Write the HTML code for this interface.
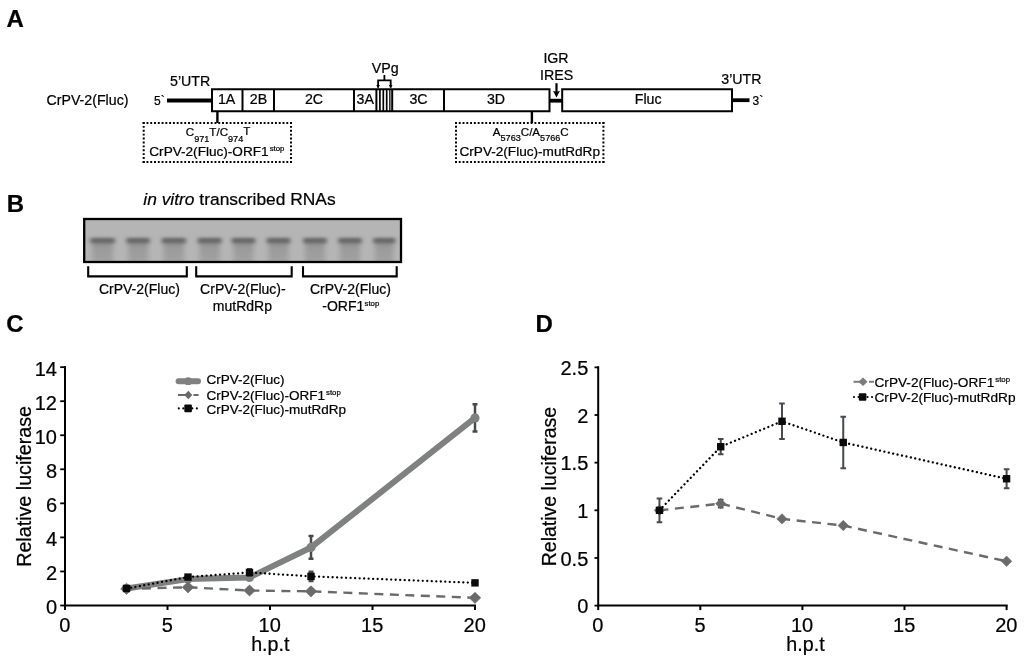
<!DOCTYPE html>
<html lang="en"><head><meta charset="utf-8"><title>CrPV-2(Fluc) figure</title>
<style>html,body{margin:0;padding:0;background:#fff;}body{width:1024px;height:661px;overflow:hidden;}svg{display:block;}text{font-family:"Liberation Sans", Arial, sans-serif;fill:#000;stroke:#000;stroke-width:0.22px;}.pl{font-size:24px;font-weight:bold;}.t14{font-size:14.2px;}.t136{font-size:13.6px;}.t14b{font-size:14px;}.t12{font-size:12px;}.t11{font-size:11.6px;}.sub{font-size:9.1px;}.sup{font-size:7.8px;}.tk{font-size:20px;}.ax{font-size:19.7px;}.lg{font-size:13.5px;}</style></head><body>
<svg width="1024" height="661" viewBox="0 0 1024 661">
<defs><filter id="b1" x="-20%" y="-100%" width="140%" height="300%"><feGaussianBlur stdDeviation="2 1.7"/></filter><filter id="b2" x="-20%" y="-50%" width="140%" height="200%"><feGaussianBlur stdDeviation="2.6 1.6"/></filter><linearGradient id="smear" x1="0" y1="0" x2="0" y2="1"><stop offset="0" stop-color="#8e8e8e"/><stop offset="0.35" stop-color="#9c9c9c"/><stop offset="1" stop-color="#a6a6a6"/></linearGradient><clipPath id="gelclip"><rect x="84.2" y="219" width="316.8" height="43"/></clipPath></defs>
<rect x="0" y="0" width="1024" height="661" fill="#fff"/>
<g id="panelA">
<text class="pl" x="6.6" y="27">A</text>
<text class="t14" x="46.5" y="105">CrPV-2(Fluc)</text>
<text class="t12" x="154" y="104.5">5`</text>
<text class="t14" x="170" y="86">5’UTR</text>
<line x1="167" y1="100.6" x2="212" y2="100.6" stroke="#000" stroke-width="4"/>
<rect x="212" y="89.25" width="337.5" height="22" fill="#fff" stroke="#000" stroke-width="2"/>
<line x1="242.5" y1="89" x2="242.5" y2="111.5" stroke="#000" stroke-width="2"/>
<line x1="274" y1="89" x2="274" y2="111.5" stroke="#000" stroke-width="2"/>
<line x1="354" y1="89" x2="354" y2="111.5" stroke="#000" stroke-width="2"/>
<line x1="376.4" y1="89" x2="376.4" y2="111.5" stroke="#000" stroke-width="2"/>
<line x1="392.2" y1="89" x2="392.2" y2="111.5" stroke="#000" stroke-width="2"/>
<line x1="444" y1="89" x2="444" y2="111.5" stroke="#000" stroke-width="2"/>
<line x1="379.9" y1="89" x2="379.9" y2="111.5" stroke="#000" stroke-width="1.7"/>
<line x1="383.3" y1="89" x2="383.3" y2="111.5" stroke="#000" stroke-width="1.7"/>
<line x1="386.7" y1="89" x2="386.7" y2="111.5" stroke="#000" stroke-width="1.7"/>
<line x1="389.85" y1="89" x2="389.85" y2="111.5" stroke="#000" stroke-width="1.3"/>
<text class="t14" x="226.6" y="104.2" text-anchor="middle">1A</text>
<text class="t14" x="258.5" y="104.2" text-anchor="middle">2B</text>
<text class="t14" x="314" y="104.2" text-anchor="middle">2C</text>
<text class="t14" x="365.2" y="104.2" text-anchor="middle">3A</text>
<text class="t14" x="418.5" y="104.2" text-anchor="middle">3C</text>
<text class="t14" x="496" y="104.2" text-anchor="middle">3D</text>
<text class="t14" x="385.2" y="72.5" text-anchor="middle">VPg</text>
<path d="M384.4 75 V80.3 M378.1 87.5 V80.3 H390.7 V87.5" fill="none" stroke="#000" stroke-width="1.8"/>
<path d="M376.3 85 L378.1 88.4 L379.9 85 Z M388.9 85 L390.7 88.4 L392.5 85 Z" fill="#000"/>
<line x1="549.5" y1="100.7" x2="562.2" y2="100.7" stroke="#000" stroke-width="3.8"/>
<text class="t14" x="556" y="63.2" text-anchor="middle">IGR</text>
<text class="t14" x="556.6" y="80.2" text-anchor="middle">IRES</text>
<line x1="556.5" y1="83.2" x2="556.5" y2="93" stroke="#000" stroke-width="2.2"/>
<path d="M553 90.8 L556.5 97.6 L560 90.8 L556.5 92 Z" fill="#000"/>
<rect x="562.2" y="89.25" width="169.8" height="22" fill="#fff" stroke="#000" stroke-width="2"/>
<text class="t14" x="648.2" y="104" text-anchor="middle">Fluc</text>
<line x1="732" y1="100.2" x2="749.5" y2="100.2" stroke="#000" stroke-width="3.8"/>
<text class="t12" x="752.5" y="104.5">3`</text>
<text class="t14" x="721.3" y="84.4">3’UTR</text>
<line x1="217.4" y1="111" x2="217.4" y2="123" stroke="#000" stroke-width="2.4"/>
<line x1="531.9" y1="111" x2="531.9" y2="123" stroke="#000" stroke-width="2.4"/>
<g fill="none" stroke="#000" stroke-width="2">
<line x1="142.7" y1="123" x2="292" y2="123" stroke-dasharray="1.9 1.8795"/>
<line x1="142.7" y1="161.9" x2="292" y2="161.9" stroke-dasharray="1.9 1.8795"/>
<line x1="143.7" y1="122" x2="143.7" y2="162.9" stroke-dasharray="1.9 2.0000"/>
<line x1="291" y1="122" x2="291" y2="162.9" stroke-dasharray="1.9 2.0000"/>
</g>
<g fill="none" stroke="#000" stroke-width="2">
<line x1="455" y1="122.9" x2="604.4" y2="122.9" stroke-dasharray="1.9 1.8821"/>
<line x1="455" y1="162" x2="604.4" y2="162" stroke-dasharray="1.9 1.8821"/>
<line x1="456" y1="121.9" x2="456" y2="163" stroke-dasharray="1.9 2.0200"/>
<line x1="603.4" y1="121.9" x2="603.4" y2="163" stroke-dasharray="1.9 2.0200"/>
</g>
<text class="t11" x="185.8" y="136.3">C<tspan class="sub" dy="5.2">971</tspan><tspan dy="-5.9">T/C</tspan><tspan class="sub" dy="5.9">974</tspan><tspan dy="-6.2">T</tspan></text>
<text class="t136" x="149.3" y="155.6">CrPV-2(Fluc)-ORF1<tspan class="sup" dx="1" dy="-4.6">stop</tspan></text>
<text class="t11" x="492.8" y="135.8">A<tspan class="sub" dy="5.2">5763</tspan><tspan dy="-5.2">C/A</tspan><tspan class="sub" dy="5.2">5766</tspan><tspan dy="-5.2">C</tspan></text>
<text class="t136" x="459.5" y="155.8">CrPV-2(Fluc)-mutRdRp</text>
</g>
<g id="panelB">
<text class="pl" x="6.7" y="212">B</text>
<text x="143.3" y="204.5" style="font-size:17.4px"><tspan font-style="italic">in vitro</tspan> transcribed RNAs</text>
<rect x="84.2" y="219" width="316.8" height="43" fill="#b5b5b5"/>
<g clip-path="url(#gelclip)">
<rect x="92.1" y="240" width="21.0" height="30" fill="url(#smear)" filter="url(#b2)"/>
<rect x="128.2" y="240" width="19.8" height="30" fill="url(#smear)" filter="url(#b2)"/>
<rect x="163.5" y="240" width="20.6" height="30" fill="url(#smear)" filter="url(#b2)"/>
<rect x="199.5" y="240" width="20.3" height="30" fill="url(#smear)" filter="url(#b2)"/>
<rect x="233.5" y="240" width="20.0" height="30" fill="url(#smear)" filter="url(#b2)"/>
<rect x="268.5" y="240" width="20.0" height="30" fill="url(#smear)" filter="url(#b2)"/>
<rect x="305.0" y="240" width="20.0" height="30" fill="url(#smear)" filter="url(#b2)"/>
<rect x="340.0" y="240" width="20.0" height="30" fill="url(#smear)" filter="url(#b2)"/>
<rect x="375.0" y="240" width="18.5" height="30" fill="url(#smear)" filter="url(#b2)"/>
<rect x="90.6" y="237.8" width="24.0" height="5.4" fill="#686868" filter="url(#b1)"/>
<rect x="126.7" y="237.8" width="22.8" height="5.4" fill="#686868" filter="url(#b1)"/>
<rect x="162.0" y="237.8" width="23.6" height="5.4" fill="#686868" filter="url(#b1)"/>
<rect x="198.0" y="237.8" width="23.3" height="5.4" fill="#686868" filter="url(#b1)"/>
<rect x="232.0" y="237.8" width="23.0" height="5.4" fill="#686868" filter="url(#b1)"/>
<rect x="267.0" y="237.8" width="23.0" height="5.4" fill="#686868" filter="url(#b1)"/>
<rect x="303.5" y="237.8" width="23.0" height="5.4" fill="#686868" filter="url(#b1)"/>
<rect x="338.5" y="237.8" width="23.0" height="5.4" fill="#686868" filter="url(#b1)"/>
<rect x="373.5" y="237.8" width="21.5" height="5.4" fill="#686868" filter="url(#b1)"/>
</g>
<rect x="84.2" y="219" width="316.8" height="43" fill="none" stroke="#000" stroke-width="2.3"/>
<path d="M88.2 266.2 V276.4 H186.8 V266.2" fill="none" stroke="#000" stroke-width="2.1"/>
<path d="M196.2 266.2 V276.4 H291.7 V266.2" fill="none" stroke="#000" stroke-width="2.1"/>
<path d="M303 266.2 V276.4 H396.7 V266.2" fill="none" stroke="#000" stroke-width="2.1"/>
<text class="t14b" x="139.4" y="293.8" text-anchor="middle">CrPV-2(Fluc)</text>
<text class="t14b" x="242.9" y="293.8" text-anchor="middle">CrPV-2(Fluc)-</text>
<text class="t14b" x="242.4" y="310.5" text-anchor="middle">mutRdRp</text>
<text class="t14b" x="350.4" y="293.8" text-anchor="middle">CrPV-2(Fluc)</text>
<text class="t14b" x="322.3" y="310.5">-ORF1<tspan class="sup" dx="0.2" dy="-4.8">stop</tspan></text>
</g>
<g id="panelC">
<text class="pl" x="6.3" y="331.5">C</text>
<path d="M126.50 588.48 L188.00 579.11 L249.50 577.41 L311.00 547.44 L475.00 417.88" fill="none" stroke="#7f8080" stroke-width="6" stroke-linejoin="round" stroke-linecap="round"/>
<path d="M311.00 536.04 V558.85 M308.50 536.04 H313.50 M308.50 558.85 H313.50" fill="none" stroke="#464a4f" stroke-width="2.5"/>
<path d="M475.00 404.26 V431.50 M472.50 404.26 H477.50 M472.50 431.50 H477.50" fill="none" stroke="#464a4f" stroke-width="2.5"/>
<circle cx="126.50" cy="588.48" r="4.6" fill="#7f8080"/>
<circle cx="188.00" cy="579.11" r="4.6" fill="#7f8080"/>
<circle cx="249.50" cy="577.41" r="4.6" fill="#7f8080"/>
<circle cx="311.00" cy="547.44" r="4.6" fill="#7f8080"/>
<circle cx="475.00" cy="417.88" r="4.6" fill="#7f8080"/>
<path d="M126.50 588.82 L188.00 587.28 L249.50 590.52 L311.00 591.37 L475.00 597.84" fill="none" stroke="#6a6a6a" stroke-width="2.4" stroke-dasharray="9 6.5"/>
<path d="M126.50 583.22 l5.8 5.6 l-5.8 5.6 l-5.8 -5.6 Z" fill="#6a6a6a" stroke="#6a6a6a" stroke-width="0.6" stroke-linejoin="round"/>
<path d="M188.00 581.68 l5.8 5.6 l-5.8 5.6 l-5.8 -5.6 Z" fill="#6a6a6a" stroke="#6a6a6a" stroke-width="0.6" stroke-linejoin="round"/>
<path d="M249.50 584.92 l5.8 5.6 l-5.8 5.6 l-5.8 -5.6 Z" fill="#6a6a6a" stroke="#6a6a6a" stroke-width="0.6" stroke-linejoin="round"/>
<path d="M311.00 585.77 l5.8 5.6 l-5.8 5.6 l-5.8 -5.6 Z" fill="#6a6a6a" stroke="#6a6a6a" stroke-width="0.6" stroke-linejoin="round"/>
<path d="M475.00 592.24 l5.8 5.6 l-5.8 5.6 l-5.8 -5.6 Z" fill="#6a6a6a" stroke="#6a6a6a" stroke-width="0.6" stroke-linejoin="round"/>
<path d="M126.50 588.48 L188.00 577.07 L249.50 572.47 L311.00 576.39 L475.00 582.86" fill="none" stroke="#000" stroke-width="2.3" stroke-linecap="round" stroke-dasharray="0.01 4.5"/>
<path d="M188.00 575.71 V578.43 M185.50 575.71 H190.50 M185.50 578.43 H190.50" fill="none" stroke="#464a4f" stroke-width="2.5"/>
<path d="M249.50 569.24 V575.71 M247.00 569.24 H252.00 M247.00 575.71 H252.00" fill="none" stroke="#464a4f" stroke-width="2.5"/>
<path d="M311.00 571.79 V580.98 M308.50 571.79 H313.50 M308.50 580.98 H313.50" fill="none" stroke="#464a4f" stroke-width="2.5"/>
<rect x="122.80" y="584.77" width="7.4" height="7.4" fill="#0a0a0a"/>
<rect x="184.30" y="573.37" width="7.4" height="7.4" fill="#0a0a0a"/>
<rect x="245.80" y="568.77" width="7.4" height="7.4" fill="#0a0a0a"/>
<rect x="307.30" y="572.69" width="7.4" height="7.4" fill="#0a0a0a"/>
<rect x="471.30" y="579.16" width="7.4" height="7.4" fill="#0a0a0a"/>
<path d="M65 366.1 V605.5 H476" fill="none" stroke="#000" stroke-width="2"/>
<line x1="60.2" y1="605.50" x2="65" y2="605.50" stroke="#000" stroke-width="1.8"/>
<text class="tk" x="57.0" y="614.40" text-anchor="end">0</text>
<line x1="60.2" y1="571.45" x2="65" y2="571.45" stroke="#000" stroke-width="1.8"/>
<text class="tk" x="57.0" y="580.35" text-anchor="end">2</text>
<line x1="60.2" y1="537.40" x2="65" y2="537.40" stroke="#000" stroke-width="1.8"/>
<text class="tk" x="57.0" y="546.30" text-anchor="end">4</text>
<line x1="60.2" y1="503.35" x2="65" y2="503.35" stroke="#000" stroke-width="1.8"/>
<text class="tk" x="57.0" y="512.25" text-anchor="end">6</text>
<line x1="60.2" y1="469.30" x2="65" y2="469.30" stroke="#000" stroke-width="1.8"/>
<text class="tk" x="57.0" y="478.20" text-anchor="end">8</text>
<line x1="60.2" y1="435.25" x2="65" y2="435.25" stroke="#000" stroke-width="1.8"/>
<text class="tk" x="57.0" y="444.15" text-anchor="end">10</text>
<line x1="60.2" y1="401.20" x2="65" y2="401.20" stroke="#000" stroke-width="1.8"/>
<text class="tk" x="57.0" y="410.10" text-anchor="end">12</text>
<line x1="60.2" y1="367.15" x2="65" y2="367.15" stroke="#000" stroke-width="1.8"/>
<text class="tk" x="57.0" y="376.05" text-anchor="end">14</text>
<line x1="65.00" y1="605.5" x2="65.00" y2="610.0" stroke="#000" stroke-width="2"/>
<text class="tk" x="64.70" y="631.5" text-anchor="middle">0</text>
<line x1="167.50" y1="605.5" x2="167.50" y2="610.0" stroke="#000" stroke-width="2"/>
<text class="tk" x="167.20" y="631.5" text-anchor="middle">5</text>
<line x1="270.00" y1="605.5" x2="270.00" y2="610.0" stroke="#000" stroke-width="2"/>
<text class="tk" x="269.70" y="631.5" text-anchor="middle">10</text>
<line x1="372.50" y1="605.5" x2="372.50" y2="610.0" stroke="#000" stroke-width="2"/>
<text class="tk" x="372.20" y="631.5" text-anchor="middle">15</text>
<line x1="475.00" y1="605.5" x2="475.00" y2="610.0" stroke="#000" stroke-width="2"/>
<text class="tk" x="474.70" y="631.5" text-anchor="middle">20</text>
<text class="ax" x="270.3" y="650.6" text-anchor="middle">h.p.t</text>
<text class="ax" style="font-size:19.7px" transform="translate(30.6 486.4) rotate(-90)" text-anchor="middle">Relative luciferase</text>
<line x1="178.6" y1="381.2" x2="198" y2="381.2" stroke="#7f8080" stroke-width="6" stroke-linecap="round"/><circle cx="188.2" cy="381.2" r="3.9" fill="#7f8080"/><text class="lg" x="206.5" y="384.1">CrPV-2(Fluc)</text><line x1="178" y1="395" x2="198.6" y2="395" stroke="#6a6a6a" stroke-width="2.1" stroke-dasharray="9 6.5"/><path d="M188.3 390.8 l4 4.2 l-4 4.2 l-4 -4.2 Z" fill="#6a6a6a"/><text class="lg" x="206.5" y="399.5">CrPV-2(Fluc)-ORF1<tspan class="sup" dx="1" dy="-4.5">stop</tspan></text><line x1="178.8" y1="408.4" x2="198" y2="408.4" stroke="#000" stroke-width="2.1" stroke-linecap="round" stroke-dasharray="0.01 4.5"/><rect x="184.3" y="404.6" width="7.6" height="7.6" rx="1" fill="#0a0a0a"/><text class="lg" x="206.5" y="413.5">CrPV-2(Fluc)-mutRdRp</text>
</g>
<g id="panelD">
<text class="pl" x="535.5" y="331.5">D</text>
<path d="M659.46 510.30 L720.72 503.63 L781.98 518.88 L843.24 525.55 L1006.60 561.29" fill="none" stroke="#6a6a6a" stroke-width="2.4" stroke-dasharray="9 6.5"/>
<path d="M720.72 499.82 V507.44 M717.92 499.82 H723.52 M717.92 507.44 H723.52" fill="none" stroke="#464a4f" stroke-width="2.0"/>
<path d="M659.46 505.10 l5.2 5.2 l-5.2 5.2 l-5.2 -5.2 Z" fill="#6a6a6a" stroke="#6a6a6a" stroke-width="0.6" stroke-linejoin="round"/>
<path d="M720.72 498.43 l5.2 5.2 l-5.2 5.2 l-5.2 -5.2 Z" fill="#6a6a6a" stroke="#6a6a6a" stroke-width="0.6" stroke-linejoin="round"/>
<path d="M781.98 513.68 l5.2 5.2 l-5.2 5.2 l-5.2 -5.2 Z" fill="#6a6a6a" stroke="#6a6a6a" stroke-width="0.6" stroke-linejoin="round"/>
<path d="M843.24 520.35 l5.2 5.2 l-5.2 5.2 l-5.2 -5.2 Z" fill="#6a6a6a" stroke="#6a6a6a" stroke-width="0.6" stroke-linejoin="round"/>
<path d="M1006.60 556.09 l5.2 5.2 l-5.2 5.2 l-5.2 -5.2 Z" fill="#6a6a6a" stroke="#6a6a6a" stroke-width="0.6" stroke-linejoin="round"/>
<path d="M659.46 510.30 L720.72 446.73 L781.98 421.29 L843.24 442.45 L1006.60 478.76" fill="none" stroke="#000" stroke-width="2.3" stroke-linecap="round" stroke-dasharray="0.01 4.5"/>
<path d="M659.46 498.39 V522.21 M656.66 498.39 H662.26 M656.66 522.21 H662.26" fill="none" stroke="#464a4f" stroke-width="2.0"/>
<path d="M720.72 439.11 V454.36 M717.92 439.11 H723.52 M717.92 454.36 H723.52" fill="none" stroke="#464a4f" stroke-width="2.0"/>
<path d="M781.98 403.47 V439.11 M779.18 403.47 H784.78 M779.18 439.11 H784.78" fill="none" stroke="#464a4f" stroke-width="2.0"/>
<path d="M843.24 416.72 V468.18 M840.44 416.72 H846.04 M840.44 468.18 H846.04" fill="none" stroke="#464a4f" stroke-width="2.0"/>
<path d="M1006.60 469.23 V488.29 M1003.80 469.23 H1009.40 M1003.80 488.29 H1009.40" fill="none" stroke="#464a4f" stroke-width="2.0"/>
<rect x="655.76" y="506.60" width="7.4" height="7.4" fill="#0a0a0a"/>
<rect x="717.02" y="443.03" width="7.4" height="7.4" fill="#0a0a0a"/>
<rect x="778.28" y="417.59" width="7.4" height="7.4" fill="#0a0a0a"/>
<rect x="839.54" y="438.75" width="7.4" height="7.4" fill="#0a0a0a"/>
<rect x="1002.90" y="475.06" width="7.4" height="7.4" fill="#0a0a0a"/>
<path d="M598.2 366.3 V605.6 H1007.7" fill="none" stroke="#000" stroke-width="2"/>
<line x1="594.5" y1="605.60" x2="598.2" y2="605.60" stroke="#000" stroke-width="1.8"/>
<text class="tk" x="588.3000000000001" y="613.20" text-anchor="end">0</text>
<line x1="594.5" y1="557.95" x2="598.2" y2="557.95" stroke="#000" stroke-width="1.8"/>
<text class="tk" x="588.3000000000001" y="565.55" text-anchor="end">0.5</text>
<line x1="594.5" y1="510.30" x2="598.2" y2="510.30" stroke="#000" stroke-width="1.8"/>
<text class="tk" x="588.3000000000001" y="517.90" text-anchor="end">1</text>
<line x1="594.5" y1="462.65" x2="598.2" y2="462.65" stroke="#000" stroke-width="1.8"/>
<text class="tk" x="588.3000000000001" y="470.25" text-anchor="end">1.5</text>
<line x1="594.5" y1="415.00" x2="598.2" y2="415.00" stroke="#000" stroke-width="1.8"/>
<text class="tk" x="588.3000000000001" y="422.60" text-anchor="end">2</text>
<line x1="594.5" y1="367.35" x2="598.2" y2="367.35" stroke="#000" stroke-width="1.8"/>
<text class="tk" x="588.3000000000001" y="374.95" text-anchor="end">2.5</text>
<line x1="598.20" y1="605.6" x2="598.20" y2="610.1" stroke="#000" stroke-width="2"/>
<text class="tk" x="597.90" y="631.5" text-anchor="middle">0</text>
<line x1="700.30" y1="605.6" x2="700.30" y2="610.1" stroke="#000" stroke-width="2"/>
<text class="tk" x="700.00" y="631.5" text-anchor="middle">5</text>
<line x1="802.40" y1="605.6" x2="802.40" y2="610.1" stroke="#000" stroke-width="2"/>
<text class="tk" x="802.10" y="631.5" text-anchor="middle">10</text>
<line x1="904.50" y1="605.6" x2="904.50" y2="610.1" stroke="#000" stroke-width="2"/>
<text class="tk" x="904.20" y="631.5" text-anchor="middle">15</text>
<line x1="1006.60" y1="605.6" x2="1006.60" y2="610.1" stroke="#000" stroke-width="2"/>
<text class="tk" x="1006.30" y="631.5" text-anchor="middle">20</text>
<text class="ax" x="805.5" y="650.6" text-anchor="middle">h.p.t</text>
<text class="ax" style="font-size:19.5px" transform="translate(555.9 486.6) rotate(-90)" text-anchor="middle">Relative luciferase</text>
<line x1="853.5" y1="381.8" x2="874" y2="381.8" stroke="#7c7c7c" stroke-width="2.1" stroke-dasharray="9 6.5"/><path d="M863 377.6 l4.6 4.2 l-4.6 4.2 l-4.6 -4.2 Z" fill="#7c7c7c"/><text class="lg" style="font-size:13.65px" x="874.5" y="386.8">CrPV-2(Fluc)-ORF1<tspan class="sup" dx="1" dy="-4.5">stop</tspan></text><line x1="854" y1="397" x2="873.5" y2="397" stroke="#000" stroke-width="2.1" stroke-linecap="round" stroke-dasharray="0.01 4.5"/><rect x="858.8" y="393.2" width="7.6" height="7.6" rx="1" fill="#0a0a0a"/><text class="lg" style="font-size:13.65px" x="874.5" y="401.6">CrPV-2(Fluc)-mutRdRp</text>
</g>
</svg></body></html>
